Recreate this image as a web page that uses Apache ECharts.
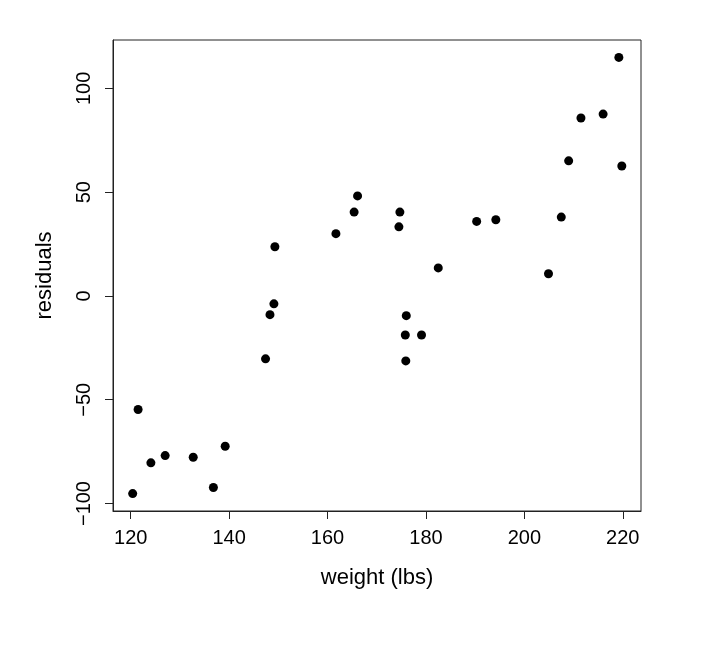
<!DOCTYPE html>
<html>
<head>
<meta charset="utf-8">
<script src="https://cdn.jsdelivr.net/npm/echarts@6/dist/echarts.min.js"></script>
<style>
  html, body { margin: 0; padding: 0; background: #fff; }
  #chart { width: 718px; height: 652px; }
</style>
</head>
<body>
<div id="chart"></div>
<script>
// weight (lbs) and residuals
var weight = [121.5, 120.4, 124.1, 127.0, 132.7, 136.8, 139.2,
  166.1, 165.4, 174.7, 174.5, 161.7, 149.3, 182.5, 149.1, 148.3, 176.0, 175.8, 179.1, 147.4, 175.9,
  219.2, 216.0, 211.5, 209.0, 219.8, 190.3, 194.2, 207.5, 204.9];
var residuals = [-54.7, -95.2, -80.4, -76.9, -77.7, -92.3, -72.4,
  48.2, 40.4, 40.4, 33.3, 30.0, 23.7, 13.5, -3.8, -9.0, -9.5, -18.8, -18.8, -30.3, -31.3,
  114.9, 87.6, 85.7, 65.1, 62.6, 35.9, 36.7, 38.0, 10.7];
var xTicks = [120, 140, 160, 180, 200, 220];
var yTicks = [-100, -50, 0, 50, 100];

var points = weight.map(function (w, i) {
  return [w, residuals[i]];
});

var font = "Liberation Sans, Arial, Helvetica, sans-serif";

var chart = echarts.init(document.getElementById("chart"));
chart.setOption({
  animation: false,
  grid: {
    left: 113,
    right: 77,
    top: 40,
    bottom: 141,
    show: true,
    borderColor: "#222",
    borderWidth: 1,
    outerBoundsMode: "none",
  },
  xAxis: {
    type: "value",
    min: 116.4,
    max: 223.7,
    name: "weight (lbs)",
    nameLocation: "middle",
    nameGap: 56,
    nameTextStyle: { color: "#000", fontSize: 22, fontFamily: font },
    axisLine: { show: true, onZero: false, lineStyle: { color: "#222", width: 1 } },
    axisTick: { show: true, length: 8, customValues: xTicks, lineStyle: { color: "#222" } },
    axisLabel: { customValues: xTicks, margin: 17, color: "#000", fontSize: 20, fontFamily: font },
    splitLine: { show: false },
  },
  yAxis: {
    type: "value",
    min: -103.6,
    max: 123.3,
    name: "residuals",
    nameLocation: "middle",
    nameRotate: 90,
    nameGap: 57,
    nameTextStyle: { color: "#000", fontSize: 22, fontFamily: font },
    axisLine: { show: true, onZero: false, lineStyle: { color: "#222", width: 1 } },
    axisTick: { show: true, length: 8, customValues: yTicks, lineStyle: { color: "#222" } },
    axisLabel: {
      customValues: yTicks,
      rotate: 90,
      margin: 19,
      color: "#000",
      fontSize: 20,
      fontFamily: font,
      formatter: function (v) {
        return String(v).replace("-", "\u2212");
      },
    },
    splitLine: { show: false },
  },
  series: [
    {
      type: "scatter",
      data: points,
      symbol: "circle",
      symbolSize: 9,
      itemStyle: { color: "#000", opacity: 1 },
    },
  ],
});
</script>
</body>
</html>
